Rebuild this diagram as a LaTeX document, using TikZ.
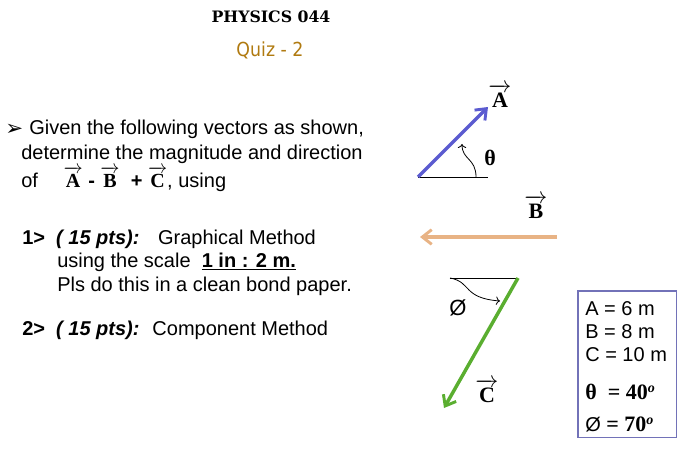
\documentclass[tikz,border=0pt]{standalone}
\usepackage{amsmath, amssymb}
\usepackage[no-math]{fontspec}
\setmainfont{Liberation Sans}
\newfontfamily\titlefont{DejaVu Serif}
\newfontfamily\quizfont{DejaVu Sans Condensed}
\newfontfamily\symfont{DejaVu Sans}
\newfontfamily\serfont{Liberation Serif}
\usetikzlibrary{arrows.meta, positioning}

\definecolor{vecblue}{HTML}{5B5BD0}
\definecolor{vectan}{HTML}{E8B385}
\definecolor{vecgreen}{HTML}{5AAE30}
\definecolor{quizbrown}{HTML}{B07A10}
\definecolor{boxblue}{HTML}{7272B8}

\tikzset{
    txt/.style={anchor=base west, inner sep=0pt, font=\fontsize{15}{18}\selectfont},
    veclabel/.style={inner sep=0pt, font=\fontsize{16.5}{18}\selectfont},
    vecline/.style={line width=2.6pt, -{Straight Barb[length=7pt, width=11pt, line width=2.2pt]}},
    angline/.style={line width=0.6pt, -{To[length=3pt]}}
}
\newcommand{\vecsym}[1]{$\overrightarrow{\text{\serfont\bfseries #1}}$}
\newcommand{\thsym}{{\serfont\bfseries θ}}
\newcommand{\degval}[1]{{\serfont\bfseries\fontsize{16.5}{18}\selectfont #1}$^{\text{\serfont\bfseries\itshape o}}$}

\begin{document}
\begin{tikzpicture}[x=0.75pt, y=-0.75pt]
                \useasboundingbox (0,0) rectangle (681,449);

                % Heading
                \node[inner sep=0pt, font=\titlefont\bfseries\fontsize{11.8}{14}\selectfont] (title) at (271,17) {PHYSICS 044};
                \node[inner sep=0pt, text=quizbrown, font=\quizfont\fontsize{14.5}{16}\selectfont] (quiz) at (270,50) {Quiz - 2};

                % Question text
                \node[txt, font=\symfont\fontsize{16}{18}\selectfont] (bullet) at (5,136) {➢};
                \node[txt] (line1) at (29,135) {Given the following vectors as shown,};
                \node[txt] (line2) at (21,160) {determine the magnitude and direction};
                \node[txt] (line3) at (21,187) {of \quad \vecsym{A} \textbf{-} \vecsym{B} \ \textbf{+} \vecsym{C}, using};

                \node[txt] (part1) at (22,244) {\textbf{1>} \ \textbf{\itshape ( 15 pts):} \ \ Graphical Method};
                \node[txt] (scale) at (57,267) {using the scale \ \underline{\textbf{1 in : 2 m.}}};
                \node[txt] (paper) at (57,291) {Pls do this in a clean bond paper.};
                \node[txt] (part2) at (22,335) {\textbf{2>} \ \textbf{\itshape ( 15 pts):} \ Component Method};

                % Vector A
                \coordinate (Atail) at (418,177);
                \coordinate (Ahead) at (488,107);
                \coordinate (Aref) at (488,177);
                \draw[thin] (Atail) -- (Aref);
                \draw[vecline, vecblue] (Atail) -- (Ahead);
                \coordinate (thstart) at (476,177);
                \coordinate (thend) at (462,144);
                \draw[angline] (thstart) .. controls (476,158) and (462,160) .. (thend);
                \node[veclabel] (thlabel) at (490,158) {\thsym};
                \node[veclabel] (Alabel) at (500,96) {\vecsym{A}};

                % Vector B
                \coordinate (Btail) at (557,237);
                \coordinate (Bhead) at (420,237);
                \draw[vecline, vectan] (Btail) -- (Bhead);
                \node[veclabel] (Blabel) at (536,207) {\vecsym{B}};

                % Vector C
                \coordinate (Ctail) at (518,278);
                \coordinate (Chead) at (444,408);
                \coordinate (Cref) at (450,278);
                \draw[thin] (Cref) -- (Ctail);
                \draw[vecline, vecgreen] (Ctail) -- (Chead);
                \coordinate (phend) at (500,301);
                \draw[angline] (Cref) .. controls (472,282) and (462,298) .. (phend);
                \node[veclabel] (phlabel) at (458,308) {Ø};
                \node[veclabel] (Clabel) at (487,391) {\vecsym{C}};

                % Given values
                \node[draw=boxblue, line width=1.2pt, minimum width=74pt, minimum height=110pt, inner sep=0pt, anchor=north west] (given) at (577,290) {};
                \node[txt] (valA) at (585,315) {A = 6 m};
                \node[txt] (valB) at (585,338) {B = 8 m};
                \node[txt] (valC) at (585,361) {C = 10 m};
                \node[txt] (valth) at (585,399) {{\fontsize{16.5}{18}\selectfont\thsym}\ \ \degval{= 40}};
                \node[txt] (valph) at (585,431) {Ø \degval{= 70}};
            \end{tikzpicture}
\end{document}
